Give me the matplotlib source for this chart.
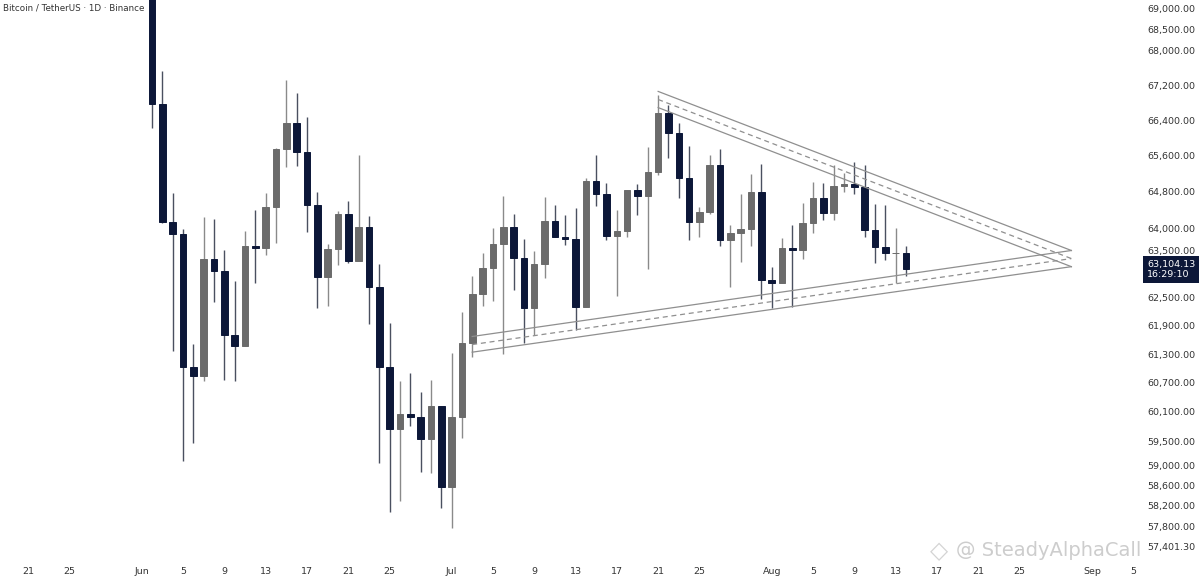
import matplotlib
matplotlib.use("Agg")
import matplotlib.pyplot as plt
import matplotlib.dates as mdates
import matplotlib.transforms as mtransforms
from matplotlib.ticker import FixedLocator, NullLocator, FuncFormatter
import numpy as np
import pandas as pd

# daily candles, first one is Jun 2
START = "2024-06-02"
opens = [69500, 66770, 64130, 63870, 61030, 60850, 63330, 63070, 61700, 61470,
         63610, 63570, 64460, 65750, 66340, 65690, 64510, 62940, 63545, 64300,
         63285, 64025, 62725, 61030, 59750, 60060, 60000, 59550, 60220, 58580,
         60000, 61535, 62575, 63135, 63655, 64025, 63350, 62275, 63220, 64155,
         63807, 63765, 62295, 65040, 64750, 63830, 63940, 64840, 64705, 65240,
         66570, 66115, 65105, 64135, 64355, 65395, 63740, 63895, 63980, 64795,
         62875, 62810, 63565, 63525, 64110, 64660, 64330, 64930, 64975, 64905,
         63960, 63590, 63455, 63460]
highs = [69800, 67530, 64770, 63980, 61510, 64240, 64200, 63520, 62850, 63940,
         64400, 64770, 65780, 67320, 67030, 66480, 64800, 63650, 64370, 64600,
         65620, 64265, 63220, 61960, 60740, 60910, 60510, 60760, 60230, 61320,
         62190, 62960, 63460, 64000, 64710, 64310, 63760, 63500, 64685, 64505,
         64290, 64440, 65105, 65620, 64995, 64395, 64840, 64975, 65800, 66980,
         66750, 66340, 65820, 64460, 65620, 65755, 64070, 64750, 65195, 65420,
         63155, 63785, 64070, 64550, 65020, 64995, 65395, 65215, 65460, 65395,
         64530, 64505, 64000, 63610]
lows = [66230, 64110, 61370, 59100, 59470, 60740, 62400, 60760, 60740, 61470,
        62810, 63410, 63680, 65350, 65370, 63920, 62270, 62320, 63200, 63240,
        63285, 61940, 59060, 58080, 58300, 59810, 58880, 58860, 58160, 57760,
        59570, 61240, 62320, 62420, 61300, 62660, 61535, 61700, 62920, 63800,
        63630, 61810, 62295, 64485, 63740, 62530, 63805, 64285, 63110, 65175,
        65550, 64660, 63740, 63805, 64310, 63610, 62725, 63260, 63610, 62465,
        62275, 62810, 62295, 63325, 63895, 64180, 64180, 64795, 64750, 63805,
        63240, 63305, 62810, 62960]
closes = [66770, 64130, 63870, 61030, 60850, 63330, 63070, 61700, 61470, 63610,
          63570, 64460, 65750, 66340, 65690, 64510, 62940, 63545, 64300, 63285,
          64025, 62725, 61030, 59750, 60060, 60000, 59550, 60220, 58580, 60000,
          61535, 62575, 63135, 63655, 64025, 63350, 62275, 63220, 64155, 63807,
          63765, 62295, 65040, 64750, 63830, 63940, 64840, 64705, 65240, 66570,
          66115, 65105, 64135, 64355, 65395, 63740, 63895, 63980, 64795, 62875,
          62810, 63565, 63525, 64110, 64660, 64330, 64930, 64975, 64905, 63960,
          63590, 63455, 63460, 63104.13]

# converging channels (start / end of each line)
upper_dates = ["2024-07-21", "2024-08-30"]
upper_outer = [67060, 63510]
upper_mid = [66875, 63335]
upper_inner = [66690, 63160]
lower_dates = ["2024-07-03", "2024-08-30"]
lower_top = [61670, 63510]
lower_mid = [61500, 63335]
lower_bottom = [61340, 63160]

price_ticks = [69000, 68500, 68000, 67200, 66400, 65600, 64800, 64000, 63500,
               62500, 61900, 61300, 60700, 60100, 59500, 59000, 58600, 58200,
               57800, 57401.30]
time_ticks = ["2024-05-21", "2024-05-25", "2024-06-01", "2024-06-05", "2024-06-09",
              "2024-06-13", "2024-06-17", "2024-06-21", "2024-06-25", "2024-07-01",
              "2024-07-05", "2024-07-09", "2024-07-13", "2024-07-17", "2024-07-21",
              "2024-07-25", "2024-08-01", "2024-08-05", "2024-08-09", "2024-08-13",
              "2024-08-17", "2024-08-21", "2024-08-25", "2024-09-01", "2024-09-05"]
time_labels = ["21", "25", "Jun", "5", "9", "13", "17", "21", "25", "Jul", "5", "9",
               "13", "17", "21", "25", "Aug", "5", "9", "13", "17", "21", "25", "Sep", "5"]
last_price = 63104.13
countdown = "16:29:10"

UP = "#6b6b6b"
DOWN = "#0c1738"
UP_WICK = "#8a8a8a"
DOWN_WICK = "#4a5060"
LINE = "#8f8f8f"

o = np.array(opens, dtype=float)
h = np.array(highs, dtype=float)
l = np.array(lows, dtype=float)
c = np.array(closes, dtype=float)
dates = mdates.date2num(pd.date_range(START, periods=len(o), freq="D"))
up = c >= o

fig = plt.figure(figsize=(12, 5.78), dpi=100)
ax = fig.add_axes([0, 22 / 578, 1138 / 1200, 556 / 578])
ax.set_yscale("log")

ax.vlines(dates, l, h, colors=np.where(up, UP_WICK, DOWN_WICK), lw=1.0, zorder=2)
ax.bar(dates, np.abs(c - o), bottom=np.minimum(o, c), width=0.64,
       color=np.where(up, UP, DOWN), edgecolor=np.where(up, UP, DOWN),
       linewidth=0.7, zorder=3)

ud = mdates.date2num(pd.to_datetime(upper_dates))
ld = mdates.date2num(pd.to_datetime(lower_dates))
for xs, ys, ls in [(ud, upper_outer, "-"), (ud, upper_mid, (0, (4, 3))), (ud, upper_inner, "-"),
                   (ld, lower_top, "-"), (ld, lower_mid, (0, (4, 3))), (ld, lower_bottom, "-")]:
    ax.plot(xs, ys, color=LINE, lw=0.9, ls=ls, zorder=4)

x0 = mdates.date2num(pd.Timestamp("2024-05-21"))
ax.set_xlim(x0 - 2.71, x0 + 107.45)
ax.set_ylim(57211, 69189)

ax.set_xticks(mdates.date2num(pd.to_datetime(time_ticks)), time_labels)
ax.yaxis.tick_right()
ax.yaxis.set_major_locator(FixedLocator(price_ticks))
ax.yaxis.set_minor_locator(NullLocator())
ax.yaxis.set_major_formatter(FuncFormatter(lambda v, p: f"{v:,.2f}"))
ax.tick_params(axis="y", length=0, pad=6.5, labelsize=6.8, labelcolor="#333333")
ax.tick_params(axis="x", length=0, pad=8, labelsize=6.8, labelcolor="#333333")
for s in ax.spines.values():
    s.set_visible(False)

trans = mtransforms.blended_transform_factory(ax.transAxes, ax.transData)
ax.text(1.0079, last_price, f"{last_price:,.2f}\n{countdown}", transform=trans,
        ha="left", va="center", fontsize=6.8, color="white", linespacing=1.1,
        bbox=dict(boxstyle="square,pad=0.45", fc=DOWN, ec="none"), clip_on=False, zorder=6)

fig.text(3 / 1200, 1 - 8 / 578, "Bitcoin / TetherUS · 1D · Binance",
         fontsize=6.3, color="#333333", va="center", ha="left")
# watermark
fig.text(930 / 1200, 1 - 551 / 578, "◇", fontsize=17, color="#d4d4d4", va="center", ha="left")
fig.text(956 / 1200, 1 - 551 / 578, "@ SteadyAlphaCall", fontsize=14, color="#cdcdcd",
         va="center", ha="left", zorder=10)

fig.savefig("out.png", dpi=100)
